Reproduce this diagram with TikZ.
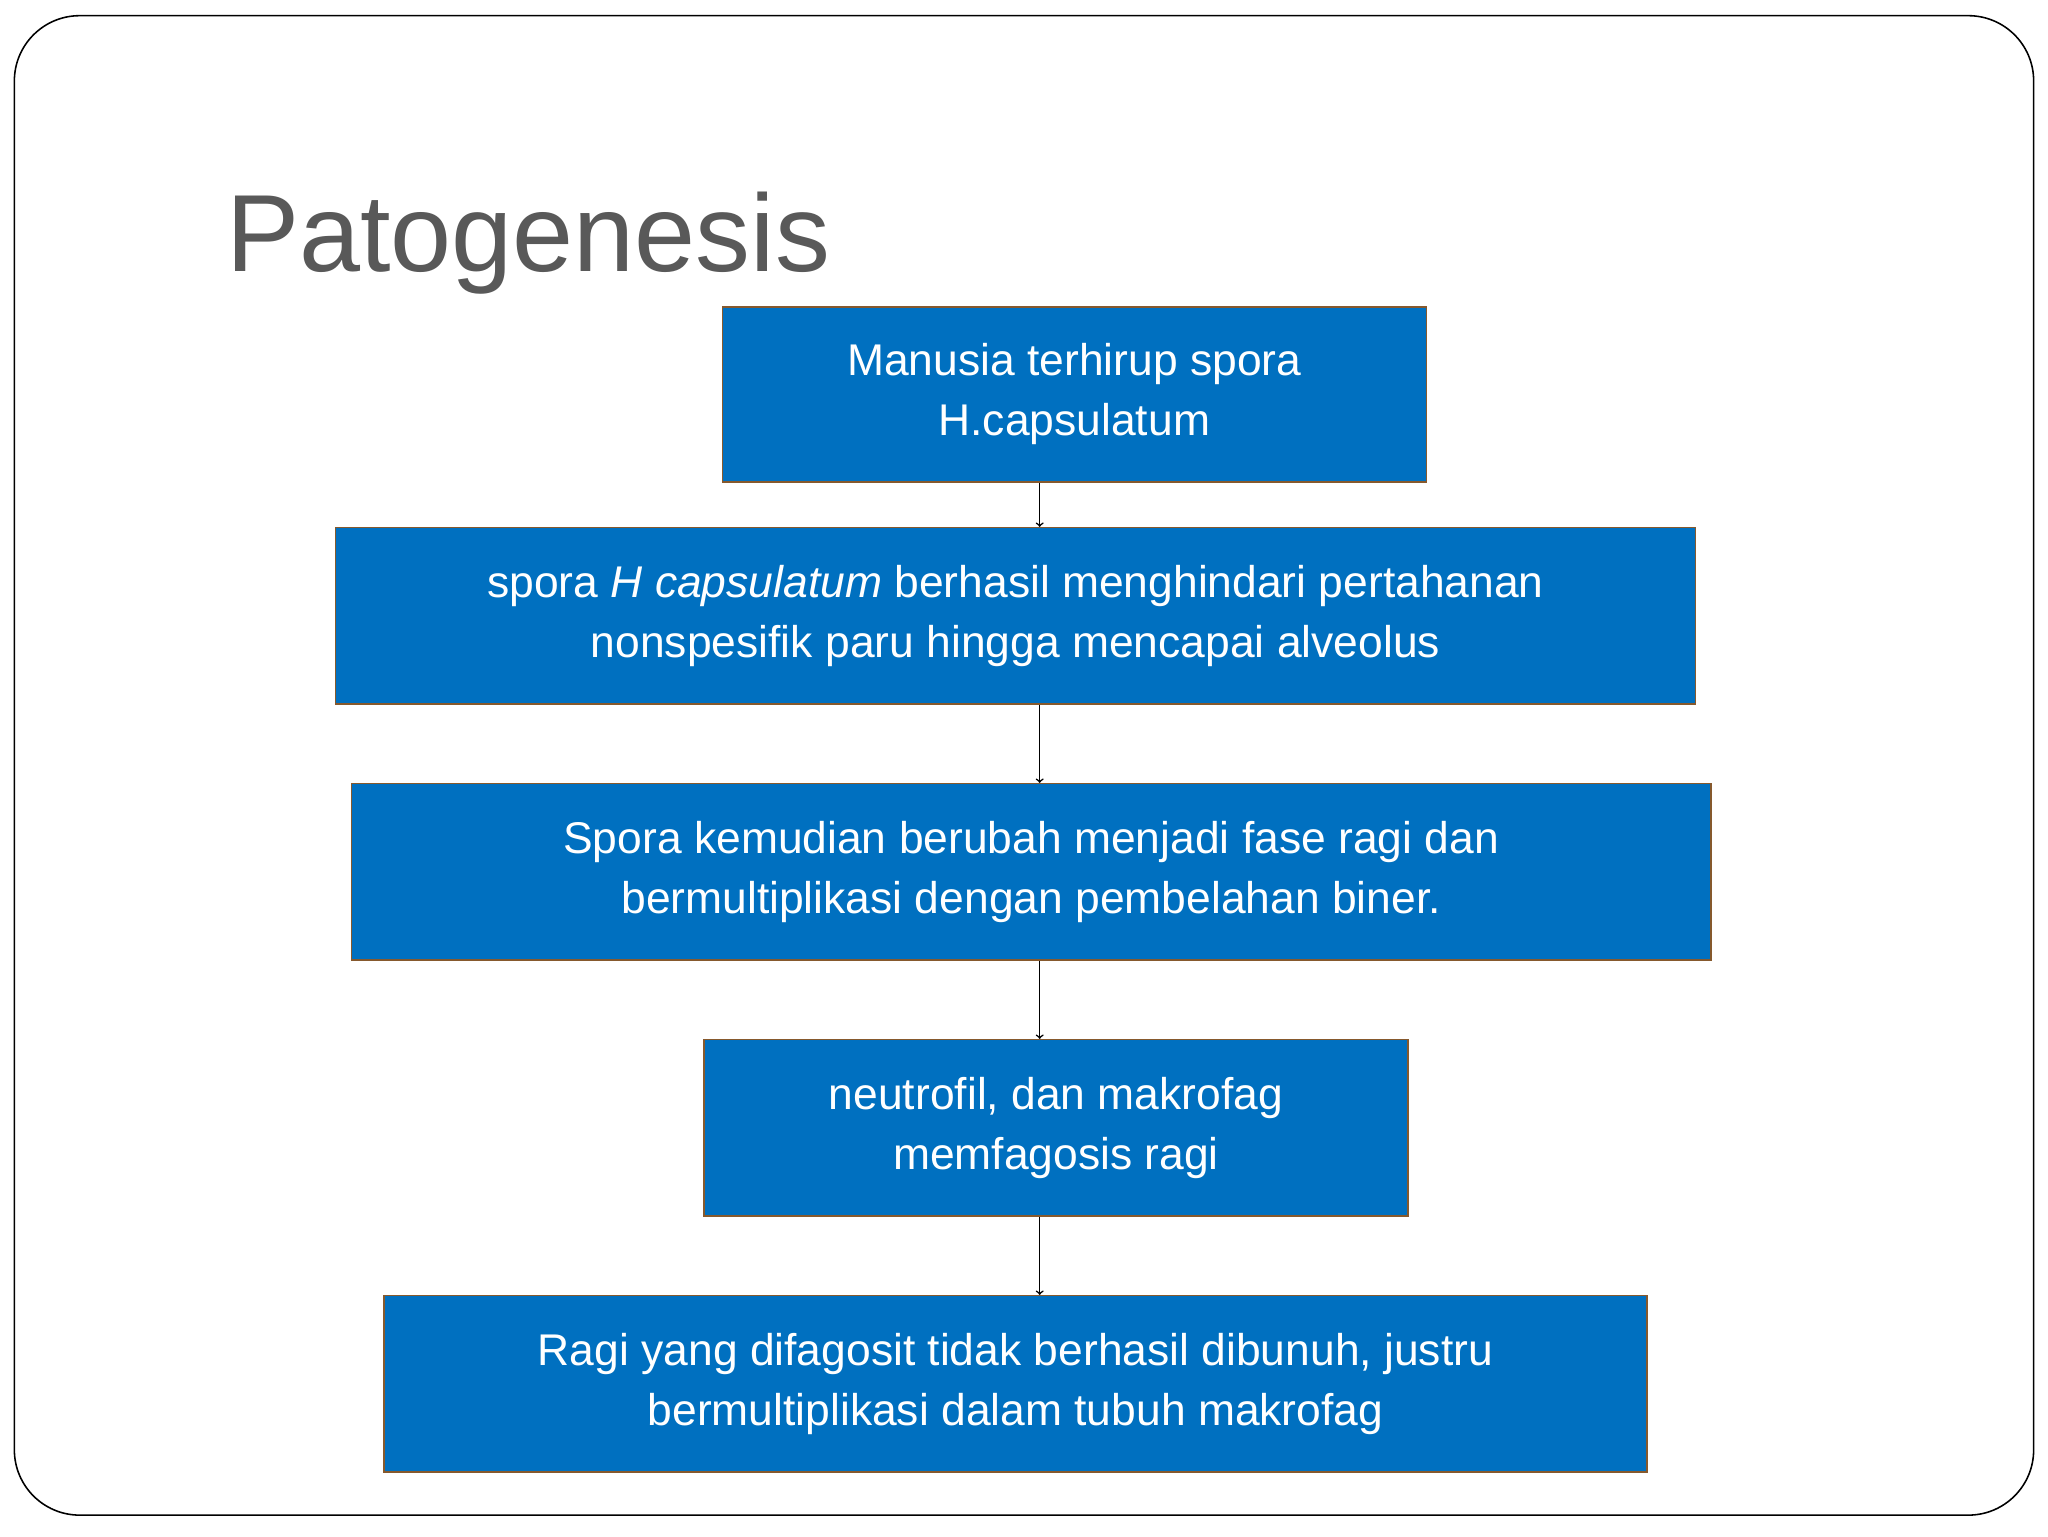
\documentclass[tikz,border=0pt]{standalone}
\usepackage{fontspec}
\setmainfont{Liberation Sans}
\begin{document}
\begin{tikzpicture}[x=1pt,y=-1pt,
  bx/.style={draw=brown!70!black, line width=1.2pt, fill=blue1, text=white, align=center, font=\fontsize{34}{46}\selectfont, inner sep=0pt},
  arr/.style={->, line width=1.2pt}]
\definecolor{blue1}{HTML}{0070C0}
\useasboundingbox (0,0) rectangle (1568,1176);
\fill[white] (0,0) rectangle (1568,1176);
\draw[line width=1.2pt, rounded corners=50pt, fill=white] (11,12) rectangle (1557,1160);
\node[anchor=base west, text=black!65, font=\fontsize{84}{90}\selectfont, inner sep=0pt] (title) at (173,208) {Patogenesis};
\node[bx, minimum width=539, minimum height=134] (b1) at (822.5,302) {Manusia terhirup spora\\H.capsulatum};
\node[bx, minimum width=1041, minimum height=135] (b2) at (777.5,471.5) {spora \textit{H capsulatum} berhasil menghindari pertahanan\\nonspesifik paru hingga mencapai alveolus};
\node[bx, minimum width=1041, minimum height=135] (b3) at (789.5,667.5) {Spora kemudian berubah menjadi fase ragi dan\\bermultiplikasi dengan pembelahan biner.};
\node[bx, minimum width=539, minimum height=135] (b4) at (808.5,863.5) {neutrofil, dan makrofag\\memfagosis ragi};
\node[bx, minimum width=967, minimum height=135] (b5) at (777.5,1059.5) {Ragi yang difagosit tidak berhasil dibunuh, justru\\bermultiplikasi dalam tubuh makrofag};
\draw[arr] (b1.south -| 796,0) -- (b2.north -| 796,0);
\draw[arr] (b2.south -| 796,0) -- (b3.north -| 796,0);
\draw[arr] (b3.south -| 796,0) -- (b4.north -| 796,0);
\draw[arr] (b4.south -| 796,0) -- (b5.north -| 796,0);
\end{tikzpicture}
\end{document}
